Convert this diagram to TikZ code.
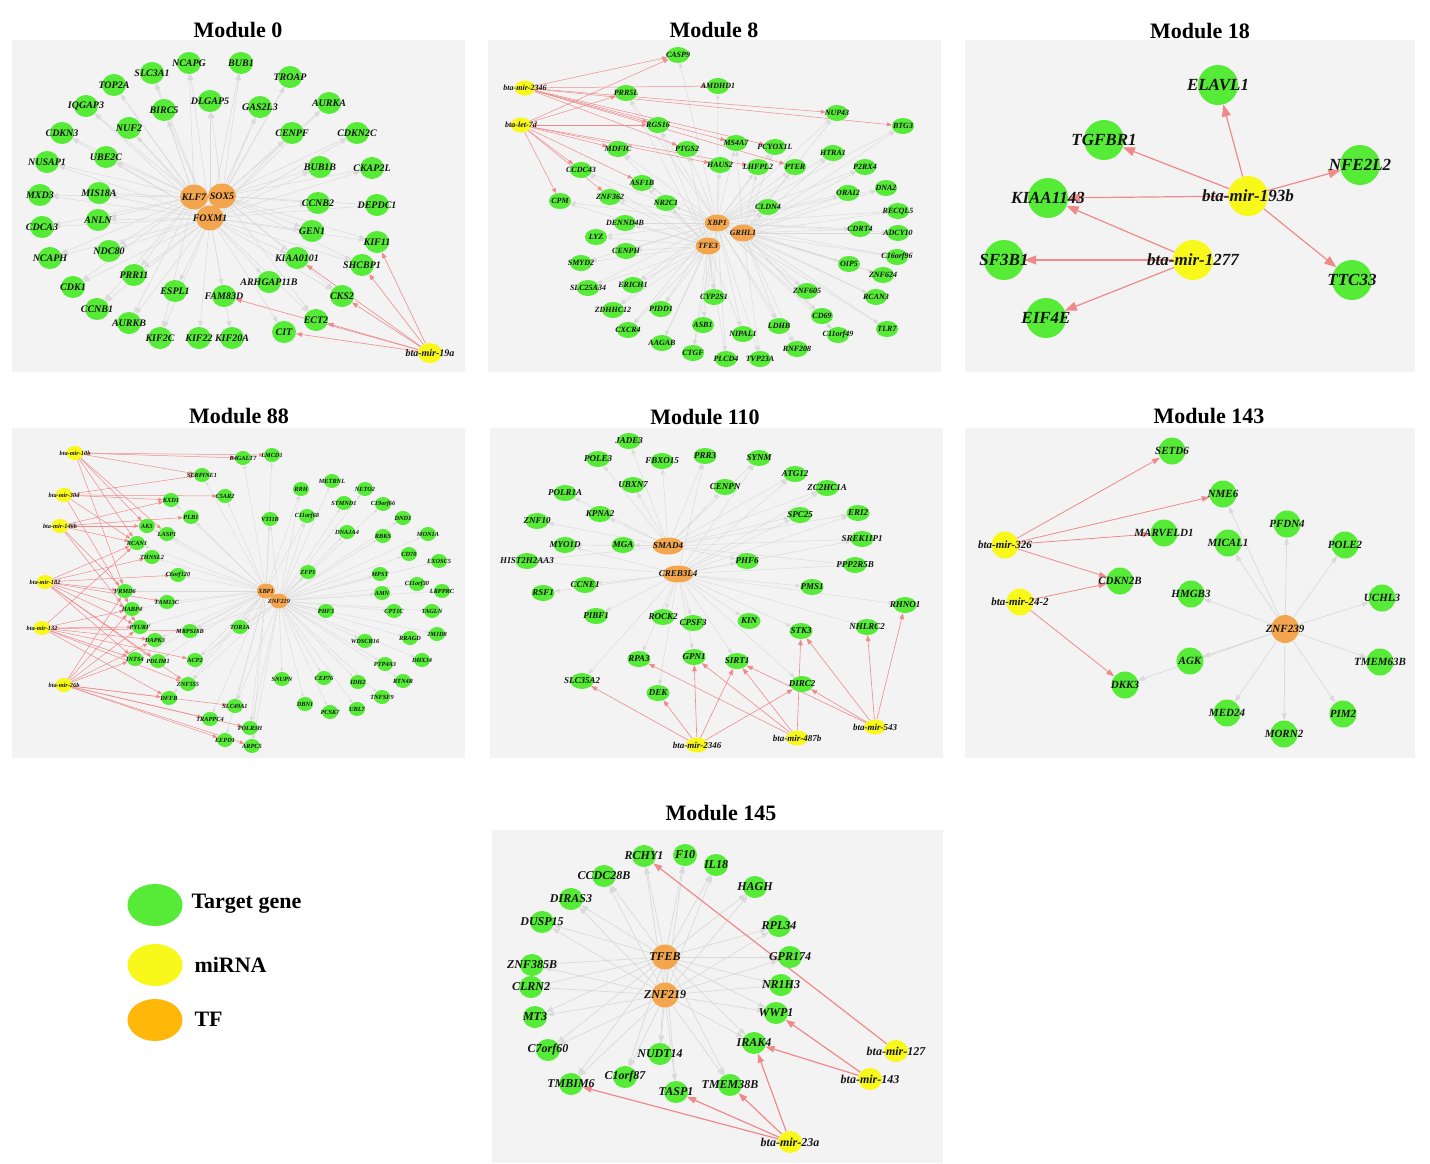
\documentclass[tikz,border=0pt]{standalone}
\usepackage{fontspec}
\setmainfont{Liberation Serif}
\usetikzlibrary{arrows.meta,shapes.geometric}
\definecolor{GeneGreen}{HTML}{55EB37}
\definecolor{MirYellow}{HTML}{F8F81A}
\definecolor{TfOrange}{HTML}{F3A64E}
\definecolor{LegOrange}{HTML}{FFB80A}
\definecolor{EdgeRed}{HTML}{F08A8A}
\definecolor{EdgeGray}{HTML}{DADADA}
\definecolor{PanelGray}{HTML}{F3F3F3}
\pgfdeclarelayer{bg}
\pgfdeclarelayer{edges}
\pgfsetlayers{bg,edges,main}
\tikzset{
  modtitle/.style={font=\fontsize{22}{24}\selectfont\bfseries},
  gsize/.style={minimum width=24pt, minimum height=22pt},
  tfsize/.style={minimum width=28pt, minimum height=25pt},
  mirsize/.style={minimum width=24pt, minimum height=20pt},
  gnode/.style={ellipse, fill=GeneGreen, inner sep=0pt, gsize},
  glab/.style={font=\fontsize{10}{11}\selectfont\bfseries\itshape, text=black!92},
  gene/.style={gnode, label={[glab]center:#1}},
  mir/.style={gnode, mirsize, fill=MirYellow, label={[glab]center:#1}},
  tf/.style={gnode, tfsize, fill=TfOrange, label={[glab]center:#1}},
  gedge/.style={draw=EdgeGray, line width=.5pt, -{Triangle[length=6pt,width=4.5pt]}},
  redge/.style={draw=EdgeRed, line width=.6pt, -{Triangle[length=6pt,width=4.5pt]}},
  legtext/.style={font=\fontsize{22}{24}\selectfont\bfseries, anchor=west}
}

\begin{document}
\begin{tikzpicture}[x=1pt, y=-1pt]
\useasboundingbox (0,0) rectangle (1430,1163);
\begin{pgfonlayer}{bg}
  \fill[white] (0,0) rectangle (1430,1163);
  \fill[PanelGray] (12,40) rectangle (465,372);
  \fill[PanelGray] (488,40) rectangle (941,372);
  \fill[PanelGray] (965,40) rectangle (1415,372);
  \fill[PanelGray] (12,428) rectangle (465,758);
  \fill[PanelGray] (490,428) rectangle (943,758);
  \fill[PanelGray] (965,428) rectangle (1415,758);
  \fill[PanelGray] (492,830) rectangle (943,1163);
\end{pgfonlayer}

\node[modtitle] (t0) at (238,30) {Module 0};
\node[modtitle] (t8) at (714,30) {Module 8};
\node[modtitle] (t18) at (1200,31) {Module 18};
\node[modtitle] (t88) at (239,416) {Module 88};
\node[modtitle] (t110) at (705,417) {Module 110};
\node[modtitle] (t143) at (1209,416) {Module 143};
\node[modtitle] (t145) at (721,813) {Module 145};

% Module 0
\begin{scope}
  \node[tf=KLF7] (klf7) at (194,197) {};
  \node[tf=SOX5] (sox5) at (222,196) {};
  \node[tf=FOXM1] (foxm1) at (210,218) {};
  \node[gene=NCAPG] (ncapg) at (189,63) {};
  \node[gene=BUB1] (bub1) at (241,63) {};
  \node[gene=SLC3A1] (slc3a1) at (152,73) {};
  \node[gene=TROAP] (troap) at (290,77) {};
  \node[gene=TOP2A] (top2a) at (114,85) {};
  \node[gene=DLGAP5] (dlgap5) at (210,101) {};
  \node[gene=BIRC5] (birc5) at (164,110) {};
  \node[gene=GAS2L3] (gas2l3) at (260,107) {};
  \node[gene=AURKA] (aurka) at (329,103) {};
  \node[gene=IQGAP3] (iqgap3) at (86,106) {};
  \node[gene=NUF2] (nuf2) at (129,128) {};
  \node[gene=CENPF] (cenpf) at (292,133) {};
  \node[gene=CDKN2C] (cdkn2c) at (357,133) {};
  \node[gene=CDKN3] (cdkn3) at (62,133) {};
  \node[gene=UBE2C] (ube2c) at (106,157) {};
  \node[gene=NUSAP1] (nusap1) at (47,162) {};
  \node[gene=BUB1B] (bub1b) at (320,167) {};
  \node[gene=CKAP2L] (ckap2l) at (372,168) {};
  \node[gene=MXD3] (mxd3) at (40,195) {};
  \node[gene=MIS18A] (mis18a) at (99,193) {};
  \node[gene=CCNB2] (ccnb2) at (318,203) {};
  \node[gene=DEPDC1] (depdc1) at (377,205) {};
  \node[gene=ANLN] (anln) at (98,220) {};
  \node[gene=CDCA3] (cdca3) at (42,227) {};
  \node[gene=GEN1] (gen1) at (312,231) {};
  \node[gene=KIF11] (kif11) at (377,242) {};
  \node[gene=NCAPH] (ncaph) at (50,258) {};
  \node[gene=NDC80] (ndc80) at (109,251) {};
  \node[gene=KIAA0101] (kiaa0101) at (297,258) {};
  \node[gene=SHCBP1] (shcbp1) at (362,265) {};
  \node[gene=PRR11] (prr11) at (134,275) {};
  \node[gene=CDK1] (cdk1) at (73,287) {};
  \node[gene=ARHGAP11B] (arhgap11b) at (269,282) {};
  \node[gene=ESPL1] (espl1) at (175,291) {};
  \node[gene=FAM83D] (fam83d) at (224,296) {};
  \node[gene=CKS2] (cks2) at (342,296) {};
  \node[gene=CCNB1] (ccnb1) at (97,309) {};
  \node[gene=ECT2] (ect2) at (316,320) {};
  \node[gene=AURKB] (aurkb) at (129,323) {};
  \node[gene=CIT] (cit) at (284,332) {};
  \node[gene=KIF2C] (kif2c) at (160,338) {};
  \node[gene=KIF22] (kif22) at (199,338) {};
  \node[gene=KIF20A] (kif20a) at (232,338) {};
  \node[mir=bta-mir-19a] (mir19a) at (430,353) {};
  \begin{pgfonlayer}{edges}
    \foreach \g in {ncapg,bub1,slc3a1,troap,top2a,dlgap5,birc5,gas2l3,aurka,iqgap3,nuf2,cenpf,cdkn2c,cdkn3,ube2c,nusap1,bub1b,ckap2l,mxd3,mis18a,ccnb2,depdc1,anln,cdca3,gen1,kif11,ncaph,ndc80,kiaa0101,shcbp1,prr11,cdk1,arhgap11b,espl1,fam83d,cks2,ccnb1,ect2,aurkb,cit,kif2c,kif22,kif20a}
      \draw[gedge] (foxm1) -- (\g);
    \foreach \g in {ncapg,slc3a1,top2a,birc5,iqgap3,nuf2,cdkn3,ube2c,nusap1,mxd3,mis18a,anln,cdca3,ncaph,ndc80,prr11,cdk1,ccnb1,aurkb,kif2c}
      \draw[gedge] (klf7) -- (\g);
    \foreach \g in {bub1,troap,dlgap5,gas2l3,aurka,cenpf,cdkn2c,bub1b,ckap2l,ccnb2,depdc1,gen1,kif11,kiaa0101,shcbp1,cks2,ect2}
      \draw[gedge] (sox5) -- (\g);
    \foreach \g in {kif11,shcbp1,cks2,kiaa0101,fam83d,ect2,cit}
      \draw[redge] (mir19a) -- (\g);
  \end{pgfonlayer}
\end{scope}

% Module 8
\begin{scope}[gsize/.style={minimum width=22pt, minimum height=16pt},
  tfsize/.style={minimum width=25pt, minimum height=17pt},
  mirsize/.style={minimum width=21pt, minimum height=15pt},
  glab/.style={font=\fontsize{8}{9}\selectfont\bfseries\itshape, text=black!92},
  gedge/.style={draw=EdgeGray, line width=.45pt, -{Triangle[length=4.5pt,width=3.5pt]}},
  redge/.style={draw=EdgeRed, line width=.5pt, -{Triangle[length=5pt,width=4pt]}}]
  \node[tf=XBP1] (xbp1m8) at (717,223) {};
  \node[tf=TFE3] (tfe3) at (708,246) {};
  \node[tf=GRHL1] (grhl1) at (743,233) {};
  \node[mir=bta-mir-2346] (mir2346m8) at (525,88) {};
  \node[mir=bta-let-7d] (let7d) at (521,125) {};
  \node[gene=CASP9] (casp9) at (678,55) {};
  \node[gene=AMDHD1] (amdhd1) at (718,86) {};
  \node[gene=PRR5L] (prr5l) at (626,93) {};
  \node[gene=NUP43] (nup43) at (837,113) {};
  \node[gene=RGS16] (rgs16) at (658,125) {};
  \node[gene=BTG3] (btg3) at (903,126) {};
  \node[gene=MS4A7] (ms4a7) at (736,143) {};
  \node[gene=PCYOX1L] (pcyox1l) at (775,147) {};
  \node[gene=MDFIC] (mdfic) at (618,149) {};
  \node[gene=PTGS2] (ptgs2) at (687,149) {};
  \node[gene=HTRA1] (htra1) at (833,153) {};
  \node[gene=HAUS2] (haus2) at (720,165) {};
  \node[gene=LHFPL2] (lhfpl2) at (758,167) {};
  \node[gene=PTER] (pter) at (795,167) {};
  \node[gene=P2RX4] (p2rx4) at (865,167) {};
  \node[gene=CCDC43] (ccdc43) at (581,170) {};
  \node[gene=ASF1B] (asf1b) at (642,183) {};
  \node[gene=DNA2] (dna2) at (886,188) {};
  \node[gene=ORAI2] (orai2) at (848,193) {};
  \node[gene=ZNF362] (znf362) at (610,197) {};
  \node[gene=CPM] (cpm) at (560,201) {};
  \node[gene=NR2C1] (nr2c1) at (666,203) {};
  \node[gene=CLDN4] (cldn4) at (768,207) {};
  \node[gene=RECQL5] (recql5) at (898,211) {};
  \node[gene=DENND4B] (dennd4b) at (625,223) {};
  \node[gene=CDRT4] (cdrt4) at (860,229) {};
  \node[gene=ADCY10] (adcy10) at (898,233) {};
  \node[gene=LYZ] (lyz) at (596,237) {};
  \node[gene=CENPH] (cenph) at (626,251) {};
  \node[gene=C16orf96] (c16orf96) at (897,257) {};
  \node[gene=SMYD2] (smyd2) at (581,263) {};
  \node[gene=OIP5] (oip5) at (849,264) {};
  \node[gene=ZNF624] (znf624) at (883,275) {};
  \node[gene=ERICH1] (erich1) at (633,285) {};
  \node[gene=SLC25A34] (slc25a34) at (588,288) {};
  \node[gene=ZNF605] (znf605) at (807,291) {};
  \node[gene=CYP2S1] (cyp2s1) at (714,297) {};
  \node[gene=RCAN3] (rcan3) at (876,297) {};
  \node[gene=PIDD1] (pidd1) at (661,309) {};
  \node[gene=ZDHHC12] (zdhhc12) at (613,310) {};
  \node[gene=CD69] (cd69) at (822,316) {};
  \node[gene=ASB1] (asb1) at (703,325) {};
  \node[gene=LDHB] (ldhb) at (779,326) {};
  \node[gene=TLR7] (tlr7) at (887,329) {};
  \node[gene=CXCR4] (cxcr4) at (628,330) {};
  \node[gene=NIPAL1] (nipal1) at (743,334) {};
  \node[gene=C11orf49] (c11orf49) at (838,335) {};
  \node[gene=AAGAB] (aagab) at (662,343) {};
  \node[gene=RNF208] (rnf208) at (797,349) {};
  \node[gene=CTGF] (ctgf) at (693,353) {};
  \node[gene=PLCD4] (plcd4) at (726,359) {};
  \node[gene=TVP23A] (tvp23a) at (760,359) {};
  \begin{pgfonlayer}{edges}
    \foreach \g in {casp9,amdhd1,prr5l,nup43,rgs16,btg3,ms4a7,pcyox1l,mdfic,ptgs2,htra1,haus2,lhfpl2,pter,p2rx4,ccdc43,asf1b,dna2,orai2,znf362,cpm,nr2c1,cldn4,recql5,dennd4b,cdrt4,adcy10,lyz,cenph,c16orf96,smyd2,oip5,znf624,erich1,slc25a34,znf605,cyp2s1,rcan3,pidd1,zdhhc12,cd69,asb1,ldhb,tlr7,cxcr4,nipal1,c11orf49,aagab,rnf208,ctgf,plcd4,tvp23a}
      \draw[gedge] (xbp1m8) -- (\g);
    \foreach \g in {prr5l,rgs16,mdfic,ptgs2,ccdc43,asf1b,znf362,cpm,nr2c1,dennd4b,lyz,cenph,smyd2,erich1,slc25a34,cyp2s1,pidd1,zdhhc12,asb1,cxcr4,aagab,ctgf,plcd4,nipal1}
      \draw[gedge] (tfe3) -- (\g);
    \foreach \g in {nup43,btg3,ms4a7,pcyox1l,htra1,lhfpl2,pter,p2rx4,dna2,orai2,cldn4,recql5,cdrt4,adcy10,c16orf96,oip5,znf624,znf605,rcan3,cd69,ldhb,tlr7,c11orf49,rnf208,tvp23a}
      \draw[gedge] (grhl1) -- (\g);
    \foreach \g in {casp9,amdhd1,nup43,btg3,ptgs2,ms4a7,pcyox1l,pter,rgs16}
      \draw[redge] (mir2346m8) -- (\g);
    \foreach \g in {casp9,prr5l,rgs16,mdfic,ccdc43,asf1b,znf362,cpm,haus2,lhfpl2}
      \draw[redge] (let7d) -- (\g);
  \end{pgfonlayer}
\end{scope}

% Module 18
\begin{scope}[gsize/.style={minimum width=40pt, minimum height=40pt},
  mirsize/.style={minimum width=40pt, minimum height=40pt},
  glab/.style={font=\fontsize{17}{19}\selectfont\bfseries\itshape, text=black!92},
  redge/.style={draw=EdgeRed, line width=1.2pt, -{Triangle[length=12pt,width=9pt]}}]
  \node[gene=ELAVL1] (elavl1) at (1218,85) {};
  \node[gene=TGFBR1] (tgfbr1) at (1104,140) {};
  \node[gene=NFE2L2] (nfe2l2) at (1360,165) {};
  \node[gene=KIAA1143] (kiaa1143) at (1048,198) {};
  \node[gene=SF3B1] (sf3b1) at (1004,260) {};
  \node[gene=TTC33] (ttc33) at (1352,280) {};
  \node[gene=EIF4E] (eif4e) at (1046,318) {};
  \node[mir=bta-mir-193b] (mir193b) at (1248,196) {};
  \node[mir=bta-mir-1277] (mir1277) at (1193,260) {};
  \begin{pgfonlayer}{edges}
    \foreach \g in {elavl1,tgfbr1,nfe2l2,kiaa1143,ttc33}
      \draw[redge] (mir193b) -- (\g);
    \foreach \g in {kiaa1143,sf3b1,eif4e}
      \draw[redge] (mir1277) -- (\g);
  \end{pgfonlayer}
\end{scope}

% Module 88
\begin{scope}[gsize/.style={minimum width=16pt, minimum height=14pt},
  tfsize/.style={minimum width=18pt, minimum height=15pt},
  mirsize/.style={minimum width=17pt, minimum height=14pt},
  glab/.style={font=\fontsize{6.3}{7}\selectfont\bfseries\itshape, text=black!92},
  gedge/.style={draw=EdgeGray, line width=.4pt, -{Triangle[length=3.5pt,width=2.5pt]}},
  redge/.style={draw=EdgeRed, line width=.5pt, -{Triangle[length=4.5pt,width=3.5pt]}}]
  \node[tf=XBP1] (xbp1m88) at (266,591) {};
  \node[tf=ZNF219] (znf219m88) at (279,601) {};
  \node[mir=bta-mir-10b] (mir10b) at (75,453) {};
  \node[mir=bta-mir-30d] (mir30d) at (64,495) {};
  \node[mir=bta-mir-146b] (mir146b) at (60,526) {};
  \node[mir=bta-mir-182] (mir182) at (45,582) {};
  \node[mir=bta-mir-132] (mir132) at (42,628) {};
  \node[mir=bta-mir-26b] (mir26b) at (64,685) {};
  \node[gene=B4GALT7] (b4galt7) at (243,458) {};
  \node[gene=LMCD1] (lmcd1) at (272,455) {};
  \node[gene=SERPINE1] (serpine1) at (202,475) {};
  \node[gene=C5AR2] (c5ar2) at (225,496) {};
  \node[gene=KXD1] (kxd1) at (171,500) {};
  \node[gene=PLB1] (plb1) at (191,517) {};
  \node[gene=AK5] (ak5) at (147,526) {};
  \node[gene=LASP1] (lasp1) at (167,534) {};
  \node[gene=RCAN1] (rcan1) at (137,543) {};
  \node[gene=THNSL2] (thnsl2) at (152,557) {};
  \node[gene=C6orf120] (c6orf120) at (178,575) {};
  \node[gene=FRMD6] (frmd6) at (125,591) {};
  \node[gene=FAM13C] (fam13c) at (167,602) {};
  \node[gene=HABP4] (habp4) at (132,609) {};
  \node[gene=PYURF] (pyurf) at (140,627) {};
  \node[gene=MRPS18B] (mrps18b) at (190,631) {};
  \node[gene=DAPK3] (dapk3) at (155,640) {};
  \node[gene=INTS4] (ints4) at (135,659) {};
  \node[gene=PDLIM1] (pdlim1) at (158,661) {};
  \node[gene=ACP2] (acp2) at (195,660) {};
  \node[gene=ZNF555] (znf555) at (188,684) {};
  \node[gene=DFFB] (dffb) at (169,698) {};
  \node[gene=SLC49A1] (slc49a1) at (235,706) {};
  \node[gene=TRAPPC4] (trappc4) at (210,719) {};
  \node[gene=POLR3H] (polr3h) at (250,728) {};
  \node[gene=EEPD1] (eepd1) at (225,740) {};
  \node[gene=ARPC5] (arpc5) at (252,746) {};
  \node[gene=TOR1A] (tor1a) at (240,627) {};
  \node[gene=VTI1B] (vti1b) at (270,519) {};
  \node[gene=RRH] (rrh) at (301,489) {};
  \node[gene=METRNL] (metrnl) at (332,481) {};
  \node[gene=NETO2] (neto2) at (365,489) {};
  \node[gene=STMND1] (stmnd1) at (344,503) {};
  \node[gene=C19orf66] (c19orf66) at (383,504) {};
  \node[gene=C11orf68] (c11orf68) at (307,516) {};
  \node[gene=DND1] (dnd1) at (403,518) {};
  \node[gene=DNAJA4] (dnaja4) at (347,532) {};
  \node[gene=RBKS] (rbks) at (383,536) {};
  \node[gene=MON1A] (mon1a) at (428,534) {};
  \node[gene=CD70] (cd70) at (409,554) {};
  \node[gene=EXOSC5] (exosc5) at (439,561) {};
  \node[gene=ZFP1] (zfp1) at (308,572) {};
  \node[gene=MPST] (mpst) at (380,574) {};
  \node[gene=C11orf30] (c11orf30) at (417,584) {};
  \node[gene=AMN] (amn) at (382,593) {};
  \node[gene=LRPPRC] (lrpprc) at (442,591) {};
  \node[gene=PHF3] (phf3) at (326,611) {};
  \node[gene=CPT1C] (cpt1c) at (394,611) {};
  \node[gene=TAGLN] (tagln) at (432,611) {};
  \node[gene=WDSCR16] (wdscr16) at (365,641) {};
  \node[gene=RRAGD] (rragd) at (410,638) {};
  \node[gene=JMJD8] (jmjd8) at (437,634) {};
  \node[gene=DHX34] (dhx34) at (422,660) {};
  \node[gene=PTP4A3] (ptp4a3) at (385,664) {};
  \node[gene=RTN4R] (rtn4r) at (403,681) {};
  \node[gene=SNUPN] (snupn) at (282,679) {};
  \node[gene=CEP76] (cep76) at (324,678) {};
  \node[gene=IDH2] (idh2) at (358,682) {};
  \node[gene=TNFSF9] (tnfsf9) at (382,697) {};
  \node[gene=DBN1] (dbn1) at (305,704) {};
  \node[gene=PCSK7] (pcsk7) at (330,712) {};
  \node[gene=UBL7] (ubl7) at (357,709) {};
  \begin{pgfonlayer}{edges}
    \foreach \g in {b4galt7,lmcd1,serpine1,c5ar2,kxd1,plb1,ak5,lasp1,rcan1,thnsl2,c6orf120,frmd6,fam13c,habp4,pyurf,mrps18b,dapk3,ints4,pdlim1,acp2,znf555,dffb,slc49a1,trappc4,polr3h,eepd1,arpc5,tor1a,vti1b,rrh,c11orf68}
      \draw[gedge] (xbp1m88) -- (\g);
    \foreach \g in {metrnl,neto2,stmnd1,c19orf66,dnd1,dnaja4,rbks,mon1a,cd70,exosc5,zfp1,mpst,c11orf30,amn,lrpprc,phf3,cpt1c,tagln,wdscr16,rragd,jmjd8,dhx34,ptp4a3,rtn4r,snupn,cep76,idh2,tnfsf9,dbn1,pcsk7,ubl7,slc49a1,polr3h,arpc5,tor1a,vti1b,rrh,c11orf68,mrps18b,acp2,znf555}
      \draw[gedge] (znf219m88) -- (\g);
    \foreach \g in {b4galt7,lmcd1,serpine1,ak5,rcan1,lasp1,frmd6}
      \draw[redge] (mir10b) -- (\g);
    \foreach \g in {serpine1,kxd1,c5ar2,rcan1,habp4}
      \draw[redge] (mir30d) -- (\g);
    \foreach \g in {kxd1,plb1,ak5,rcan1,pyurf,frmd6}
      \draw[redge] (mir146b) -- (\g);
    \foreach \g in {rcan1,thnsl2,c6orf120,frmd6,fam13c,habp4,pyurf,ints4,pdlim1,znf555}
      \draw[redge] (mir182) -- (\g);
    \foreach \g in {rcan1,habp4,pyurf,mrps18b,dapk3,ints4,acp2,znf555,dffb}
      \draw[redge] (mir132) -- (\g);
    \foreach \g in {frmd6,habp4,pyurf,dapk3,ints4,dffb,slc49a1,trappc4,eepd1,polr3h,arpc5}
      \draw[redge] (mir26b) -- (\g);
  \end{pgfonlayer}
\end{scope}

% Module 110
\begin{scope}[gsize/.style={minimum width=23pt, minimum height=16pt},
  tfsize/.style={minimum width=31pt, minimum height=17pt},
  mirsize/.style={minimum width=22pt, minimum height=15pt},
  glab/.style={font=\fontsize{9}{10}\selectfont\bfseries\itshape, text=black!92},
  gedge/.style={draw=EdgeGray, line width=.45pt, -{Triangle[length=5pt,width=4pt]}},
  redge/.style={draw=EdgeRed, line width=.6pt, -{Triangle[length=6pt,width=4.5pt]}}]
  \node[tf=SMAD4] (smad4) at (668,546) {};
  \node[tf=CREB3L4] (creb3l4) at (678,574) {};
  \node[gene=JADE3] (jade3) at (629,441) {};
  \node[gene=POLE3] (pole3) at (598,459) {};
  \node[gene=FBXO15] (fbxo15) at (662,461) {};
  \node[gene=PRR3] (prr3) at (705,456) {};
  \node[gene=SYNM] (synm) at (759,458) {};
  \node[gene=UBXN7] (ubxn7) at (633,485) {};
  \node[gene=CENPN] (cenpn) at (725,487) {};
  \node[gene=ATG12] (atg12) at (795,474) {};
  \node[gene=ZC2HC1A] (zc2hc1a) at (827,488) {};
  \node[gene=POLR1A] (polr1a) at (565,493) {};
  \node[gene=KPNA2] (kpna2) at (600,514) {};
  \node[gene=SPC25] (spc25) at (800,515) {};
  \node[gene=ERI2] (eri2) at (858,513) {};
  \node[gene=ZNF10] (znf10) at (537,521) {};
  \node[gene=MYO1D] (myo1d) at (565,545) {};
  \node[gene=MGA] (mga) at (623,545) {};
  \node[gene=SREK1IP1] (srek1ip1) at (862,539) {};
  \node[gene=HIST2H2AA3] (hist2h2aa3) at (527,561) {};
  \node[gene=PHF6] (phf6) at (747,561) {};
  \node[gene=PPP2R5B] (ppp2r5b) at (855,565) {};
  \node[gene=CCNE1] (ccne1) at (585,585) {};
  \node[gene=RSF1] (rsf1) at (543,593) {};
  \node[gene=PMS1] (pms1) at (812,587) {};
  \node[gene=RHNO1] (rhno1) at (905,605) {};
  \node[gene=PIBF1] (pibf1) at (596,616) {};
  \node[gene=ROCK2] (rock2) at (663,617) {};
  \node[gene=CPSF3] (cpsf3) at (693,623) {};
  \node[gene=KIN] (kin) at (749,621) {};
  \node[gene=STK3] (stk3) at (801,631) {};
  \node[gene=NHLRC2] (nhlrc2) at (867,627) {};
  \node[gene=RPA3] (rpa3) at (639,659) {};
  \node[gene=GPN1] (gpn1) at (694,657) {};
  \node[gene=SIRT1] (sirt1) at (737,661) {};
  \node[gene=SLC35A2] (slc35a2) at (582,681) {};
  \node[gene=DIRC2] (dirc2) at (802,684) {};
  \node[gene=DEK] (dek) at (658,693) {};
  \node[mir=bta-mir-2346] (mir2346m110) at (697,745) {};
  \node[mir=bta-mir-487b] (mir487b) at (797,738) {};
  \node[mir=bta-mir-543] (mir543) at (875,727) {};
  \begin{pgfonlayer}{edges}
    \foreach \g in {jade3,pole3,fbxo15,prr3,synm,ubxn7,cenpn,atg12,zc2hc1a,polr1a,kpna2,spc25,eri2,znf10,myo1d,mga,srek1ip1,hist2h2aa3,phf6,ppp2r5b}
      \draw[gedge] (smad4) -- (\g);
    \foreach \g in {prr3,synm,atg12,zc2hc1a,spc25,eri2,srek1ip1,phf6,ppp2r5b,ccne1,rsf1,pms1,rhno1,pibf1,rock2,cpsf3,kin,stk3,nhlrc2,rpa3,gpn1,sirt1,slc35a2,dirc2,dek,hist2h2aa3,myo1d}
      \draw[gedge] (creb3l4) -- (\g);
    \foreach \g in {slc35a2,dek,gpn1,sirt1,dirc2}
      \draw[redge] (mir2346m110) -- (\g);
    \foreach \g in {rpa3,gpn1,sirt1,stk3}
      \draw[redge] (mir487b) -- (\g);
    \foreach \g in {sirt1,dirc2,stk3,nhlrc2,rhno1}
      \draw[redge] (mir543) -- (\g);
  \end{pgfonlayer}
\end{scope}

% Module 143
\begin{scope}[gsize/.style={minimum width=27pt, minimum height=27pt},
  tfsize/.style={minimum width=28pt, minimum height=28pt},
  mirsize/.style={minimum width=27pt, minimum height=27pt},
  glab/.style={font=\fontsize{11}{12}\selectfont\bfseries\itshape, text=black!92},
  gedge/.style={draw=EdgeGray, line width=.7pt, -{Triangle[length=7pt,width=5pt]}},
  redge/.style={draw=EdgeRed, line width=.8pt, -{Triangle[length=8pt,width=5.5pt]}}]
  \node[tf=ZNF239] (znf239) at (1285,629) {};
  \node[mir=bta-mir-326] (mir326) at (1005,545) {};
  \node[mir=bta-mir-24-2] (mir242) at (1020,602) {};
  \node[gene=SETD6] (setd6) at (1172,451) {};
  \node[gene=NME6] (nme6) at (1223,494) {};
  \node[gene=PFDN4] (pfdn4) at (1287,524) {};
  \node[gene=MARVELD1] (marveld1) at (1164,533) {};
  \node[gene=MICAL1] (mical1) at (1228,543) {};
  \node[gene=POLE2] (pole2) at (1345,545) {};
  \node[gene=CDKN2B] (cdkn2b) at (1120,581) {};
  \node[gene=HMGB3] (hmgb3) at (1191,594) {};
  \node[gene=UCHL3] (uchl3) at (1382,598) {};
  \node[gene=AGK] (agk) at (1190,661) {};
  \node[gene=TMEM63B] (tmem63b) at (1380,662) {};
  \node[gene=DKK3] (dkk3) at (1125,685) {};
  \node[gene=MED24] (med24) at (1227,713) {};
  \node[gene=PIM2] (pim2) at (1343,714) {};
  \node[gene=MORN2] (morn2) at (1284,734) {};
  \begin{pgfonlayer}{edges}
    \foreach \g in {nme6,mical1,pfdn4,pole2,uchl3,tmem63b,pim2,morn2,med24,agk,hmgb3,dkk3}
      \draw[gedge] (znf239) -- (\g);
    \foreach \g in {setd6,nme6,marveld1,cdkn2b}
      \draw[redge] (mir326) -- (\g);
    \foreach \g in {cdkn2b,dkk3}
      \draw[redge] (mir242) -- (\g);
  \end{pgfonlayer}
\end{scope}

% Module 145
\begin{scope}[gsize/.style={minimum width=24pt, minimum height=22pt},
  tfsize/.style={minimum width=27pt, minimum height=25pt},
  mirsize/.style={minimum width=24pt, minimum height=22pt},
  glab/.style={font=\fontsize{12}{13}\selectfont\bfseries\itshape, text=black!92},
  gedge/.style={draw=EdgeGray, line width=.7pt, -{Triangle[length=7pt,width=5pt]}},
  redge/.style={draw=EdgeRed, line width=1.2pt, -{Triangle[length=9pt,width=6.5pt]}}]
  \node[tf=TFEB] (tfeb) at (665,957) {};
  \node[tf=ZNF219] (znf219m145) at (665,995) {};
  \node[gene=RCHY1] (rchy1) at (644,856) {};
  \node[gene=F10] (f10) at (685,855) {};
  \node[gene=IL18] (il18) at (716,865) {};
  \node[gene=CCDC28B] (ccdc28b) at (604,876) {};
  \node[gene=HAGH] (hagh) at (755,887) {};
  \node[gene=DIRAS3] (diras3) at (571,899) {};
  \node[gene=DUSP15] (dusp15) at (542,922) {};
  \node[gene=RPL34] (rpl34) at (779,926) {};
  \node[gene=GPR174] (gpr174) at (790,957) {};
  \node[gene=ZNF385B] (znf385b) at (532,965) {};
  \node[gene=CLRN2] (clrn2) at (531,987) {};
  \node[gene=NR1H3] (nr1h3) at (781,985) {};
  \node[gene=MT3] (mt3) at (535,1017) {};
  \node[gene=WWP1] (wwp1) at (776,1013) {};
  \node[gene=C7orf60] (c7orf60) at (548,1050) {};
  \node[gene=IRAK4] (irak4) at (754,1043) {};
  \node[gene=NUDT14] (nudt14) at (660,1054) {};
  \node[gene=C1orf87] (c1orf87) at (625,1077) {};
  \node[gene=TMBIM6] (tmbim6) at (571,1084) {};
  \node[gene=TASP1] (tasp1) at (676,1092) {};
  \node[gene=TMEM38B] (tmem38b) at (730,1085) {};
  \node[mir=bta-mir-127] (mir127) at (896,1051) {};
  \node[mir=bta-mir-143] (mir143) at (870,1079) {};
  \node[mir=bta-mir-23a] (mir23a) at (790,1142) {};
  \begin{pgfonlayer}{edges}
    \foreach \h in {tfeb,znf219m145}
      \foreach \g in {rchy1,f10,il18,ccdc28b,hagh,diras3,dusp15,rpl34,gpr174,znf385b,clrn2,nr1h3,mt3,wwp1,c7orf60,irak4,nudt14,c1orf87,tmbim6,tasp1,tmem38b}
        \draw[gedge] (\h) -- (\g);
    \draw[redge] (mir127) -- (rchy1);
    \foreach \g in {wwp1,irak4}
      \draw[redge] (mir143) -- (\g);
    \foreach \g in {irak4,tmem38b,tasp1,tmbim6}
      \draw[redge] (mir23a) -- (\g);
  \end{pgfonlayer}
\end{scope}

% legend
\node[ellipse, fill=GeneGreen, minimum width=55pt, minimum height=42pt] (leggene) at (155,905) {};
\node[ellipse, fill=MirYellow, minimum width=55pt, minimum height=42pt] (legmir) at (155,965) {};
\node[ellipse, fill=LegOrange, minimum width=55pt, minimum height=42pt] (legtf) at (155,1020) {};
\node[legtext] (legtxt1) at (188,904) {Target gene};
\node[legtext] (legtxt2) at (191,965) {miRNA};
\node[legtext] (legtxt3) at (191,1019) {TF};
\end{tikzpicture}
\end{document}
